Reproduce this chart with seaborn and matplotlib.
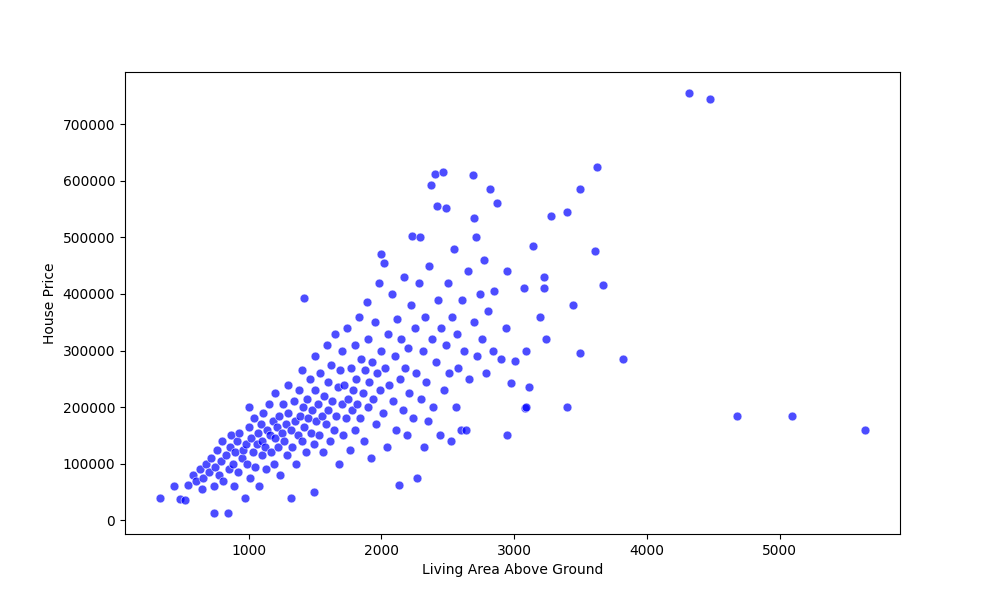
import matplotlib
matplotlib.use("Agg")
import matplotlib.pyplot as plt
import seaborn as sns
import pandas as pd

# approximate points (living area, sale price)
small_homes = [
    (334, 40000), (438, 60000), (480, 37000), (520, 36000), (540, 62000), (580, 80000), (600, 70000),
    (630, 90000), (650, 55000), (660, 75000), (680, 100000), (700, 85000), (720, 110000), (738, 13000),
    (740, 60000), (750, 95000), (760, 125000), (780, 80000), (790, 105000), (800, 140000), (810, 70000),
    (830, 115000), (842, 13000), (850, 90000), (860, 130000), (870, 150000), (880, 100000), (890, 60000),
    (900, 120000), (910, 140000), (920, 85000), (930, 155000), (950, 110000), (960, 125000), (970, 40000),
    (980, 135000), (990, 100000), (1000, 165000), (1000, 200000), (1010, 75000), (1020, 145000),
    (1030, 120000), (1040, 180000), (1050, 95000), (1060, 135000), (1070, 155000), (1080, 60000),
    (1090, 170000), (1100, 115000), (1100, 140000), (1110, 190000), (1120, 130000), (1130, 90000),
    (1140, 160000), (1150, 205000), (1160, 150000), (1170, 120000), (1180, 175000), (1190, 100000),
    (1200, 145000), (1200, 225000), (1210, 165000), (1220, 130000), (1230, 185000), (1240, 80000),
    (1250, 155000), (1260, 205000), (1270, 140000), (1280, 170000), (1290, 115000), (1300, 190000),
    (1300, 240000), (1316, 40000), (1320, 160000), (1330, 130000), (1340, 210000), (1350, 175000),
    (1360, 100000), (1370, 150000), (1380, 230000), (1390, 185000), (1400, 140000), (1400, 265000),
    (1410, 200000), (1418, 393000), (1420, 165000), (1430, 120000), (1440, 215000), (1450, 180000),
    (1460, 250000), (1470, 155000), (1480, 195000), (1489, 50000), (1490, 135000), (1500, 230000),
    (1500, 290000), (1510, 175000), (1520, 205000), (1530, 150000), (1540, 260000), (1550, 185000),
    (1560, 120000), (1570, 220000), (1580, 170000), (1590, 310000), (1600, 195000), (1600, 245000),
    (1610, 140000), (1620, 275000), (1630, 210000), (1640, 160000), (1650, 330000), (1660, 185000),
    (1670, 235000), (1680, 100000), (1690, 265000), (1700, 205000), (1700, 300000), (1710, 150000),
    (1720, 240000), (1730, 180000), (1740, 340000), (1750, 215000), (1760, 125000), (1770, 270000),
    (1780, 195000), (1790, 230000), (1800, 310000), (1800, 160000), (1810, 250000), (1820, 205000),
    (1830, 360000), (1840, 180000), (1850, 285000), (1860, 225000), (1870, 140000), (1880, 265000),
    (1890, 385000), (1900, 200000), (1900, 320000), (1910, 245000), (1920, 110000), (1930, 280000),
    (1940, 215000), (1950, 350000), (1960, 170000), (1970, 260000), (1980, 420000), (1990, 230000),
    (2000, 300000), (2000, 470000), (2010, 190000), (2020, 455000), (2030, 270000), (2040, 130000),
]
large_homes = [
    (2050, 330000), (2060, 240000), (2080, 400000), (2090, 210000), (2100, 290000), (2110, 160000),
    (2120, 355000), (2130, 62000), (2140, 250000), (2150, 320000), (2160, 195000), (2170, 430000),
    (2180, 270000), (2190, 150000), (2200, 305000), (2210, 225000), (2220, 380000), (2234, 502000),
    (2240, 180000), (2250, 340000), (2260, 260000), (2270, 75000), (2280, 420000), (2290, 500000),
    (2300, 215000), (2310, 300000), (2320, 130000), (2330, 360000), (2340, 245000), (2350, 175000),
    (2360, 450000), (2376, 592000), (2380, 320000), (2390, 200000), (2402, 612000), (2410, 280000),
    (2422, 555000), (2430, 390000), (2440, 150000), (2450, 340000), (2465, 615000), (2470, 230000),
    (2488, 552000), (2490, 310000), (2500, 420000), (2510, 260000), (2524, 140000), (2530, 360000),
    (2550, 480000), (2560, 200000), (2570, 330000), (2580, 270000), (2600, 160000), (2610, 390000),
    (2620, 300000), (2640, 160000), (2650, 440000), (2660, 250000), (2687, 610000), (2696, 535000),
    (2700, 350000), (2710, 500000), (2720, 290000), (2740, 400000), (2760, 320000), (2775, 460000),
    (2790, 260000), (2800, 370000), (2822, 585000), (2840, 300000), (2850, 405000), (2872, 560000),
    (2900, 285000), (2940, 340000), (2945, 151000), (2946, 440000), (2976, 243000), (3007, 282000),
    (3078, 410000), (3082, 198000), (3086, 200000), (3090, 300000), (3112, 235000), (3140, 485000),
    (3194, 360000), (3222, 430000), (3228, 410000), (3238, 320000), (3279, 538000), (3395, 545000),
    (3400, 200000), (3447, 380000), (3493, 295000), (3500, 585000), (3608, 475000), (3627, 625000),
    (3672, 415000), (3820, 285000), (4316, 755000), (4476, 745000), (4676, 185000), (5095, 185000),
    (5642, 160000),
]

points = small_homes + large_homes
area = [p[0] for p in points]
price = [p[1] for p in points]
df = pd.DataFrame({"GrLivArea": area, "SalePrice": price})

plt.figure(figsize=(10, 6), dpi=100)
ax = sns.scatterplot(x="GrLivArea", y="SalePrice", data=df, color="blue", alpha=0.7, s=40)
ax.set_xlabel("Living Area Above Ground")
ax.set_ylabel("House Price")
ax.set_xticks([1000, 2000, 3000, 4000, 5000])
ax.set_yticks([0, 100000, 200000, 300000, 400000, 500000, 600000, 700000])
ax.ticklabel_format(style="plain", axis="y")
plt.savefig("out.png")
plt.close()
